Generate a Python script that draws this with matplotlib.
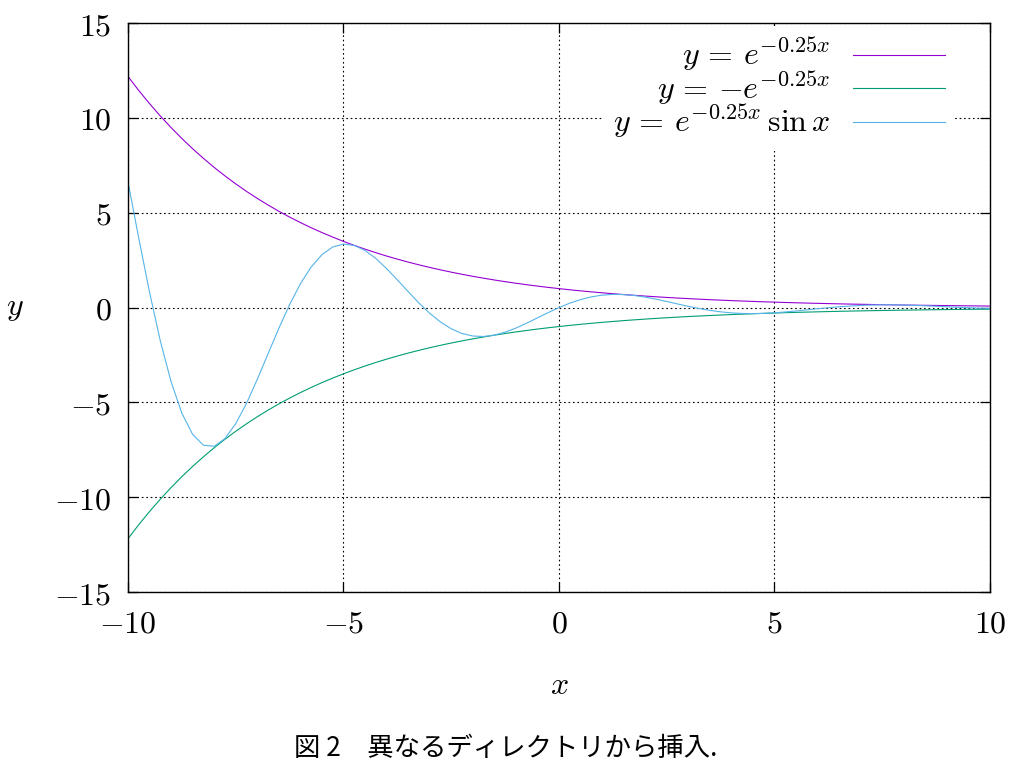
import numpy as np
import matplotlib.pyplot as plt
from matplotlib.ticker import FuncFormatter

plt.rcParams['mathtext.fontset'] = 'cm'
plt.rcParams['font.family'] = ['DejaVu Serif']

# sample points (step 0.25)
xs = [-10.0, -9.75, -9.5, -9.25, -9.0, -8.75, -8.5, -8.25, -8.0, -7.75,
      -7.5, -7.25, -7.0, -6.75, -6.5, -6.25, -6.0, -5.75, -5.5, -5.25,
      -5.0, -4.75, -4.5, -4.25, -4.0, -3.75, -3.5, -3.25, -3.0, -2.75,
      -2.5, -2.25, -2.0, -1.75, -1.5, -1.25, -1.0, -0.75, -0.5, -0.25,
      0.0, 0.25, 0.5, 0.75, 1.0, 1.25, 1.5, 1.75, 2.0, 2.25,
      2.5, 2.75, 3.0, 3.25, 3.5, 3.75, 4.0, 4.25, 4.5, 4.75,
      5.0, 5.25, 5.5, 5.75, 6.0, 6.25, 6.5, 6.75, 7.0, 7.25,
      7.5, 7.75, 8.0, 8.25, 8.5, 8.75, 9.0, 9.25, 9.5, 9.75, 10.0]

upper = [12.182, 11.444, 10.752, 10.100, 9.488, 8.913, 8.373, 7.866, 7.389, 6.942,
         6.521, 6.126, 5.755, 5.406, 5.078, 4.771, 4.482, 4.210, 3.955, 3.716,
         3.490, 3.279, 3.080, 2.894, 2.718, 2.554, 2.399, 2.254, 2.117, 1.989,
         1.868, 1.755, 1.649, 1.549, 1.455, 1.367, 1.284, 1.206, 1.133, 1.064,
         1.000, 0.939, 0.882, 0.829, 0.779, 0.732, 0.687, 0.646, 0.607, 0.570,
         0.535, 0.503, 0.472, 0.444, 0.417, 0.392, 0.368, 0.346, 0.325, 0.305,
         0.287, 0.269, 0.253, 0.238, 0.223, 0.210, 0.197, 0.185, 0.174, 0.163,
         0.153, 0.144, 0.135, 0.127, 0.119, 0.112, 0.105, 0.099, 0.093, 0.087, 0.082]

lower = [-12.182, -11.444, -10.752, -10.100, -9.488, -8.913, -8.373, -7.866, -7.389, -6.942,
         -6.521, -6.126, -5.755, -5.406, -5.078, -4.771, -4.482, -4.210, -3.955, -3.716,
         -3.490, -3.279, -3.080, -2.894, -2.718, -2.554, -2.399, -2.254, -2.117, -1.989,
         -1.868, -1.755, -1.649, -1.549, -1.455, -1.367, -1.284, -1.206, -1.133, -1.064,
         -1.000, -0.939, -0.882, -0.829, -0.779, -0.732, -0.687, -0.646, -0.607, -0.570,
         -0.535, -0.503, -0.472, -0.444, -0.417, -0.392, -0.368, -0.346, -0.325, -0.305,
         -0.287, -0.269, -0.253, -0.238, -0.223, -0.210, -0.197, -0.185, -0.174, -0.163,
         -0.153, -0.144, -0.135, -0.127, -0.119, -0.112, -0.105, -0.099, -0.093, -0.087, -0.082]

damped = [6.627, 3.656, 0.808, -1.757, -3.910, -5.568, -6.686, -7.256, -7.311, -6.904,
          -6.117, -5.050, -3.781, -2.433, -1.092, 0.158, 1.252, 2.140, 2.790, 3.192,
          3.347, 3.277, 3.011, 2.590, 2.057, 1.460, 0.842, 0.244, -0.299, -0.759,
          -1.118, -1.366, -1.499, -1.524, -1.451, -1.297, -1.080, -0.822, -0.543, -0.263,
          0.000, 0.232, 0.423, 0.565, 0.655, 0.695, 0.685, 0.636, 0.552, 0.444,
          0.320, 0.192, 0.067, -0.048, -0.146, -0.224, -0.279, -0.310, -0.318, -0.305,
          -0.275, -0.231, -0.178, -0.121, -0.062, -0.007, 0.042, 0.083, 0.114, 0.134,
          0.144, 0.143, 0.134, 0.117, 0.095, 0.070, 0.043, 0.017, -0.007, -0.028, -0.045]

labels = [r'$y\,=\,e^{-0.25x}$', r'$y\,=\,{-}e^{-0.25x}$', r'$y\,=\,e^{-0.25x}\,\sin x$']
colors = ['#9400D3', '#009E73', '#56B4E9']
caption = '図 2\u3000異なるディレクトリから挿入.'

fig = plt.figure(figsize=(10.11, 7.68), dpi=100)
ax = fig.add_axes([0.1266, 0.229, 0.8526, 0.741])

for ys, lab, c in zip([upper, lower, damped], labels, colors):
    ax.plot(xs, ys, color=c, lw=0.8, label=lab)

ax.set_xlim(-10, 10)
ax.set_ylim(-15, 15)
ax.set_xticks([-10, -5, 0, 5, 10])
ax.set_yticks([-15, -10, -5, 0, 5, 10, 15])
fmt = FuncFormatter(lambda v, p: r'$%d$' % v)
ax.xaxis.set_major_formatter(fmt)
ax.yaxis.set_major_formatter(fmt)
ax.tick_params(direction='in', length=7, width=0.9, top=True, right=True,
               labelsize=23)
ax.tick_params(axis='x', pad=12)
ax.tick_params(axis='y', pad=12)
ax.grid(True, color='black', linestyle=(0, (1.5, 2.5)), linewidth=0.8)
for s in ax.spines.values():
    s.set_linewidth(1.0)

ax.set_xlabel(r'$x$', fontsize=23, labelpad=22)
ax.set_ylabel(r'$y$', fontsize=23, rotation=0, labelpad=28, va='center')

leg = ax.legend(loc='upper right', bbox_to_anchor=(0.963, 1.0),
                markerfirst=False, fontsize=23,
                frameon=True, fancybox=False, edgecolor='none',
                facecolor='white', framealpha=1.0, handlelength=2.9,
                handletextpad=0.7, labelspacing=-0.14,
                borderaxespad=0.1, borderpad=0.3)

fig.text(0.5, 0.008, caption, ha='center', va='bottom', fontsize=19,
         family=['Noto Sans CJK JP', 'DejaVu Sans'])

fig.savefig('out.png', dpi=100)
